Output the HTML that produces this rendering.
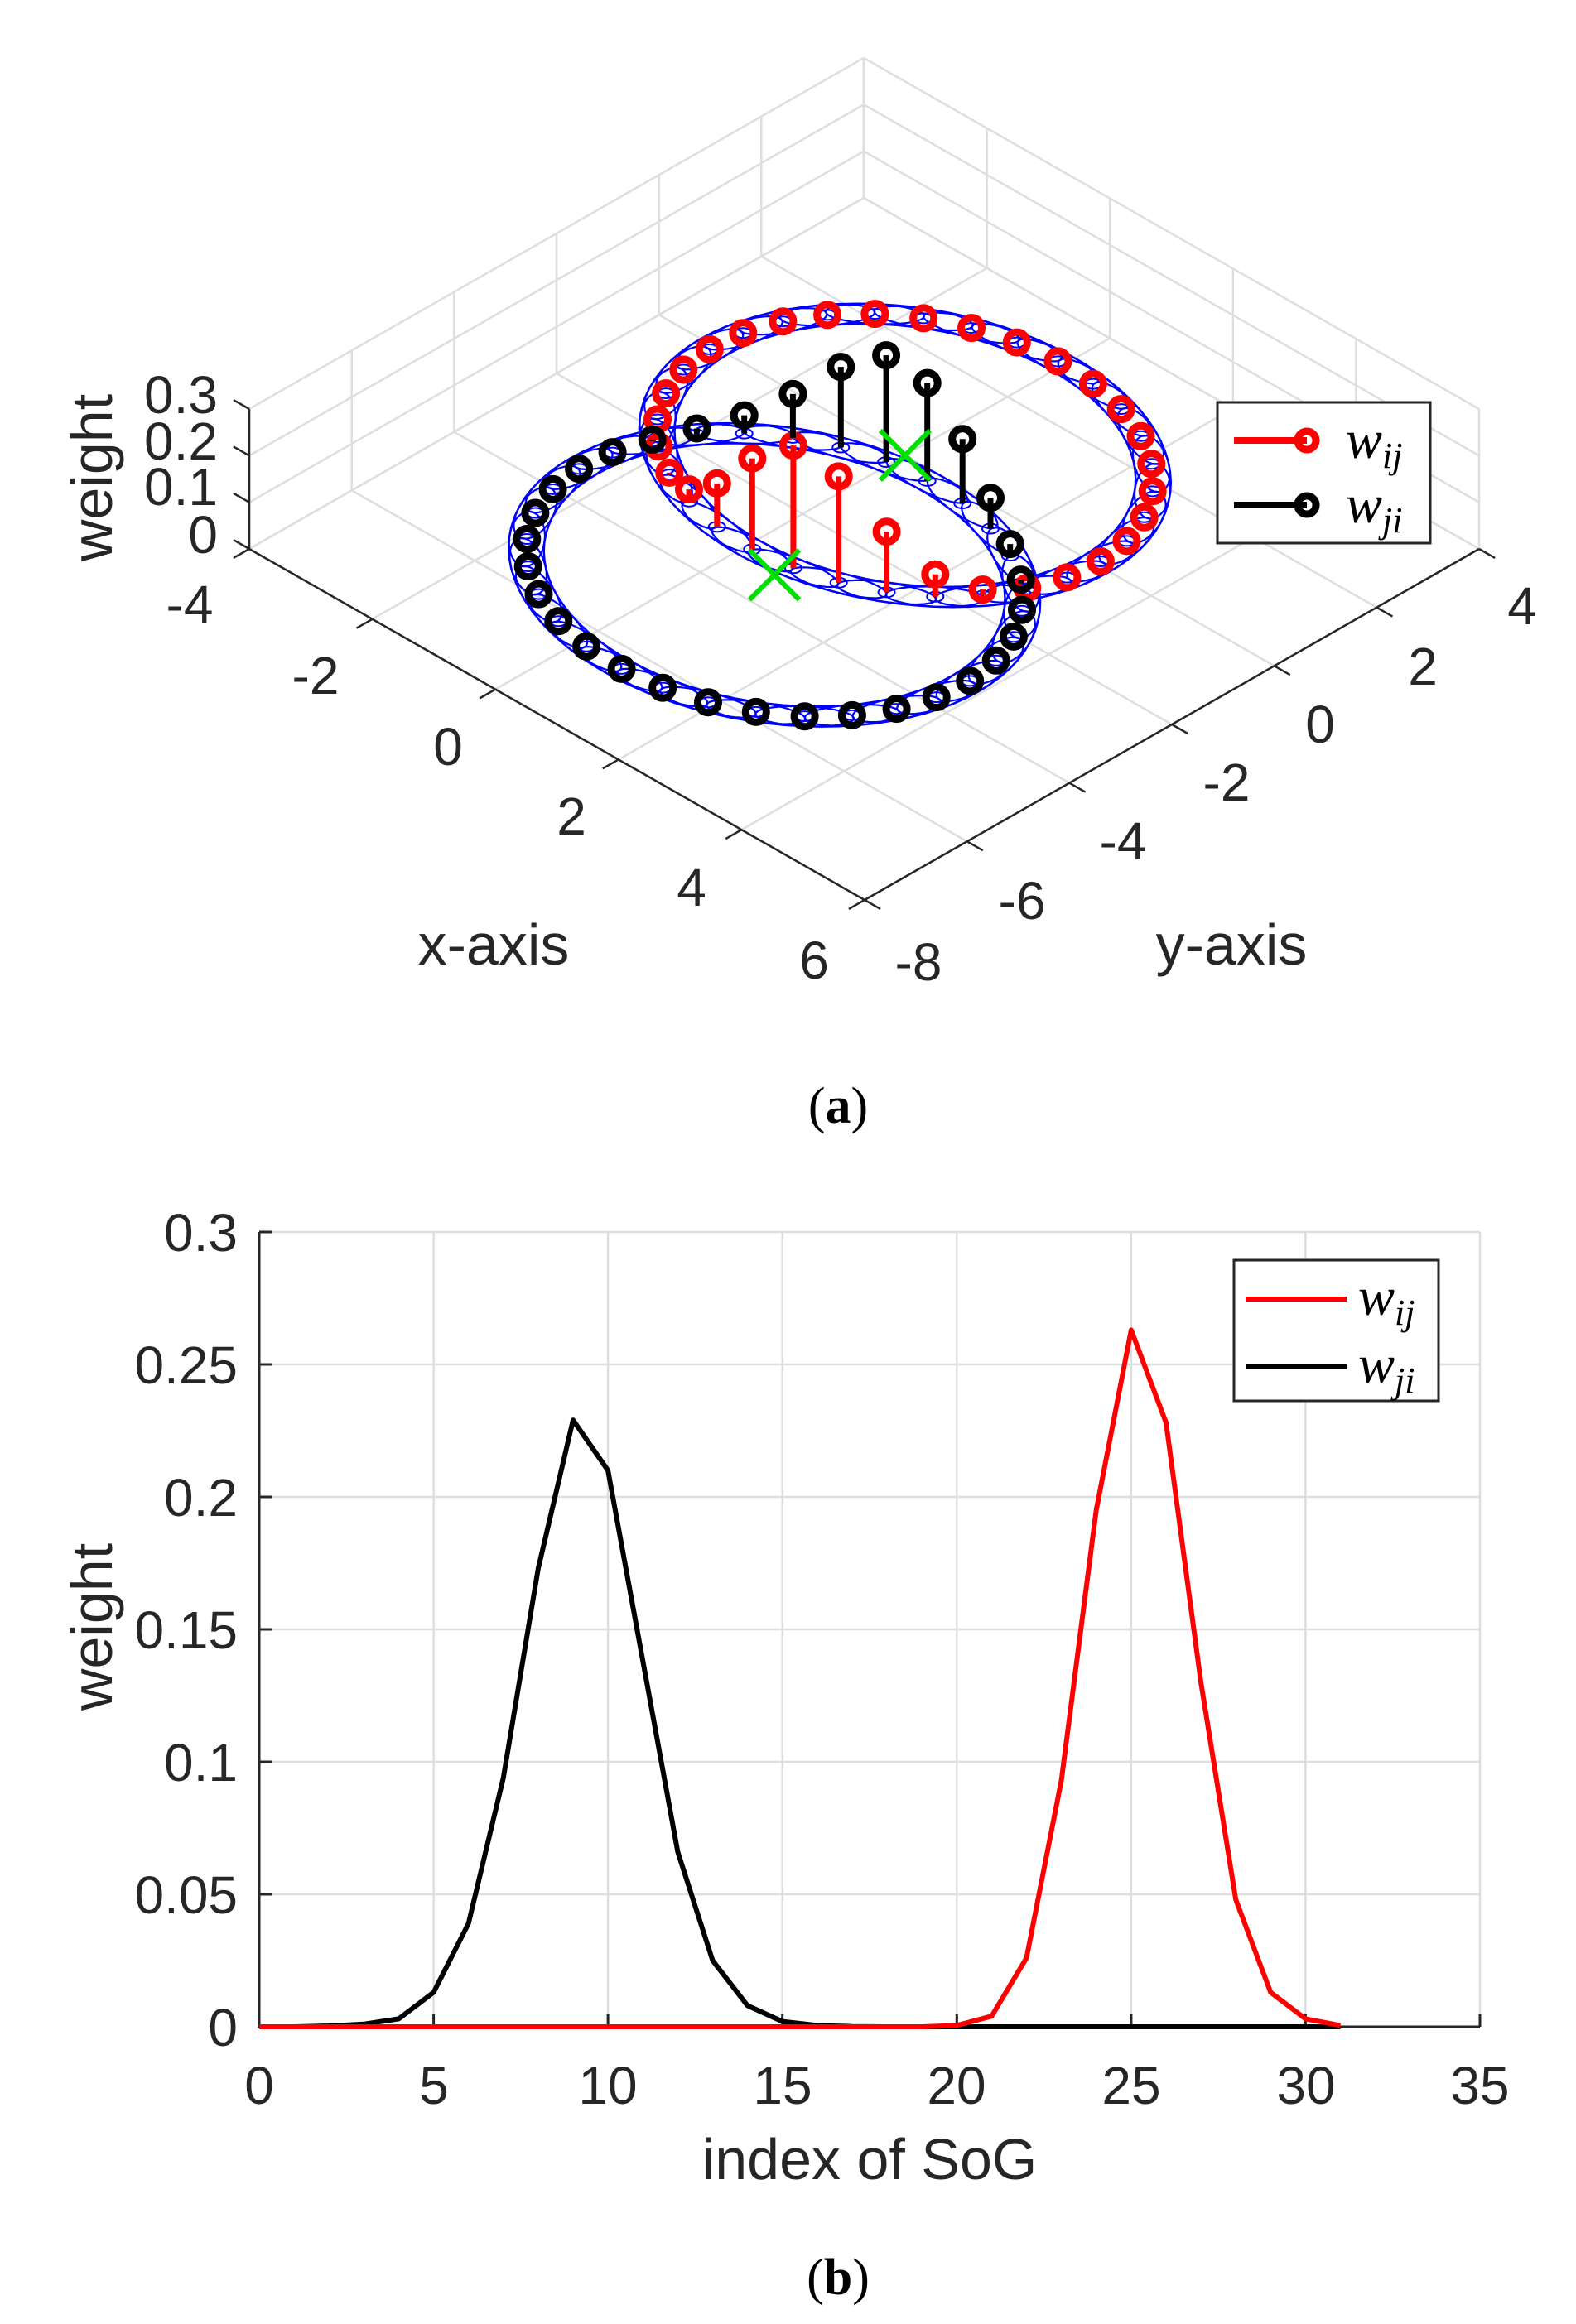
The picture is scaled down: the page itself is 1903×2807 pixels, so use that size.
<!DOCTYPE html>
<html><head><meta charset="utf-8"><style>
html,body{margin:0;padding:0;background:#fff;}
svg{display:block;}
text{font-family:"Liberation Sans",sans-serif;fill:#262626;}
.t{font-size:64px;}
.lab{font-size:70px;}
.cap{font-family:"Liberation Serif",serif;font-size:62px;fill:#000;}
.m{font-family:"Liberation Serif",serif;font-style:italic;fill:#000;}
</style></head><body>
<svg id="s" width="1903" height="2807" viewBox="0 0 1903 2807" xmlns="http://www.w3.org/2000/svg">
<g id="ga"></g>
<g class="t" text-anchor="end">
<text x="263" y="499">0.3</text><text x="263" y="555">0.2</text><text x="263" y="610">0.1</text><text x="263" y="668">0</text>
</g>
<g class="t" text-anchor="middle">
<text x="229" y="752">-4</text><text x="381" y="838">-2</text><text x="541" y="924">0</text><text x="690" y="1008">2</text><text x="835" y="1094">4</text><text x="983" y="1182">6</text>
<text x="1109" y="1184">-8</text><text x="1234" y="1110">-6</text><text x="1356" y="1038">-4</text><text x="1481" y="967">-2</text><text x="1594" y="897">0</text><text x="1718" y="827">2</text><text x="1838" y="754">4</text>
</g>
<text class="lab" x="0" y="0" text-anchor="middle" transform="translate(135,577) rotate(-90)">weight</text>
<text class="lab" x="596" y="1165" text-anchor="middle">x-axis</text>
<text class="lab" x="1487" y="1165" text-anchor="middle">y-axis</text>
<text class="cap" x="1012" y="1356" text-anchor="middle">(<tspan font-weight="bold">a</tspan>)</text>
<rect x="1470" y="486" width="257" height="170" fill="#fff" stroke="#262626" stroke-width="3"/>
<line x1="1490" y1="532" x2="1578" y2="532" stroke="#f00" stroke-width="8"/>
<circle cx="1578" cy="532" r="11" fill="none" stroke="#f00" stroke-width="9"/>
<line x1="1490" y1="610" x2="1578" y2="610" stroke="#000" stroke-width="8"/>
<circle cx="1578" cy="610" r="11" fill="none" stroke="#000" stroke-width="9"/>
<text class="m" x="1625" y="553" font-size="66">w<tspan font-size="44" dy="12">ij</tspan></text>
<text class="m" x="1625" y="631" font-size="66">w<tspan font-size="44" dy="12">ji</tspan></text>

<g id="gb"></g>
<g class="t" text-anchor="end">
<text x="287" y="1511">0.3</text><text x="287" y="1671">0.25</text><text x="287" y="1831">0.2</text><text x="287" y="1991">0.15</text><text x="287" y="2151">0.1</text><text x="287" y="2311">0.05</text><text x="287" y="2471">0</text>
</g>
<g class="t" text-anchor="middle">
<text x="313" y="2541">0</text><text x="524" y="2541">5</text><text x="734" y="2541">10</text><text x="945" y="2541">15</text><text x="1155" y="2541">20</text><text x="1366" y="2541">25</text><text x="1577" y="2541">30</text><text x="1787" y="2541">35</text>
</g>
<text class="lab" x="0" y="0" text-anchor="middle" transform="translate(135,1965) rotate(-90)">weight</text>
<text class="lab" x="1050" y="2632" text-anchor="middle">index of SoG</text>
<text class="cap" x="1012" y="2771" text-anchor="middle">(<tspan font-weight="bold">b</tspan>)</text>
<rect x="1490" y="1522" width="247" height="170" fill="#fff" stroke="#262626" stroke-width="3"/>
<line x1="1504" y1="1569" x2="1626" y2="1569" stroke="#f00" stroke-width="6"/>
<line x1="1504" y1="1651" x2="1626" y2="1651" stroke="#000" stroke-width="6"/>
<text class="m" x="1640" y="1588" font-size="66">w<tspan font-size="44" dy="12">ij</tspan></text>
<text class="m" x="1640" y="1670" font-size="66">w<tspan font-size="44" dy="12">ji</tspan></text>
</svg>
<script>
var NS="http://www.w3.org/2000/svg";
function el(p,n,a){var e=document.createElementNS(NS,n);for(var k in a)e.setAttribute(k,a[k]);p.appendChild(e);return e;}
function P(x,y,z){var a=(6-x)/10,b=(y+8)/12;return [1044-743*a+742*b,1087-424*a-424*b-563.3*z];}
function L(g,p,q,c,w){el(g,'line',{x1:p[0].toFixed(1),y1:p[1].toFixed(1),x2:q[0].toFixed(1),y2:q[1].toFixed(1),stroke:c,'stroke-width':w});}
var ga=document.getElementById('ga'),gc='#dedede';
for(var x=-4;x<=6;x+=2)L(ga,P(x,-8,0),P(x,4,0),gc,2.5);
for(var y=-8;y<=4;y+=2)L(ga,P(-4,y,0),P(6,y,0),gc,2.5);
for(var y=-8;y<=4;y+=2)L(ga,P(-4,y,0),P(-4,y,0.3),gc,2.5);
for(var x=-4;x<=6;x+=2)L(ga,P(x,4,0),P(x,4,0.3),gc,2.5);
for(var z=0;z<=0.31;z+=0.1){L(ga,P(-4,-8,z),P(-4,4,z),gc,2.5);L(ga,P(-4,4,z),P(6,4,z),gc,2.5);}
var ax='#262626';
L(ga,P(-4,-8,0),P(6,-8,0),ax,2.5);L(ga,P(6,-8,0),P(6,4,0),ax,2.5);L(ga,P(-4,-8,0),P(-4,-8,0.3),ax,2.5);
var d1=[-742/855*22,424/855*22],d2=[743/856*22,424/856*22],d3=[-743/856*22,-424/856*22];
for(var x=-4;x<=6;x+=2){var p=P(x,-8,0);L(ga,p,[p[0]+d1[0],p[1]+d1[1]],ax,2.5);}
for(var y=-8;y<=4;y+=2){var p=P(6,y,0);L(ga,p,[p[0]+d2[0],p[1]+d2[1]],ax,2.5);}
for(var z=0;z<=0.31;z+=0.1){var p=P(-4,-8,z);L(ga,p,[p[0]+d3[0],p[1]+d3[1]],ax,2.5);}
var wb=[0,0,0.0003,0.001,0.003,0.013,0.039,0.094,0.173,0.229,0.210,0.138,0.066,0.025,0.008,0.002,0.0005,0.0001,0,0,0,0,0,0,0,0,0,0,0,0,0,0];
var wr=[];for(var i=0;i<20;i++)wr.push(0);wr=wr.concat([0.0005,0.004,0.026,0.093,0.195,0.263,0.228,0.130,0.048,0.013,0.003,0.0005]);
var R=3.1,rc=[0,0],bc=[0.64,-3.32];
function ang(k,red){return red?(-77+(k-25)*11.25)*Math.PI/180:(103-(k-9)*11.25)*Math.PI/180;}
function ring(c,red){
 for(var k=0;k<32;k++){var t=ang(k,red),cx=c[0]+R*Math.cos(t),cy=c[1]+R*Math.sin(t);
  var ux=Math.cos(t),uy=Math.sin(t),vx=-uy,vy=ux,pts=[];
  for(var j=0;j<=36;j++){var s=j*Math.PI/18,ra=0.22*Math.cos(s),ta=0.62*Math.sin(s);
   var q=P(cx+ra*ux+ta*vx,cy+ra*uy+ta*vy,0);pts.push(q[0].toFixed(1)+','+q[1].toFixed(1));}
  el(ga,'polyline',{points:pts.join(' '),fill:'none',stroke:'#0000ff','stroke-width':2.2});
  var pb=P(cx,cy,0);el(ga,'ellipse',{cx:pb[0],cy:pb[1],rx:10,ry:6,fill:'none',stroke:'#0000ff','stroke-width':2});
 }
 [R+0.22,R-0.22].forEach(function(rr){var pts=[];for(var j=0;j<=90;j++){var s=j*Math.PI/45;var q=P(c[0]+rr*Math.cos(s),c[1]+rr*Math.sin(s),0);pts.push(q[0].toFixed(1)+','+q[1].toFixed(1));}
  el(ga,'polyline',{points:pts.join(' '),fill:'none',stroke:'#0000ff','stroke-width':2.5});});
}
ring(rc,true);ring(bc,false);
function stems(c,red,w){var col=red?'#f00':'#000';
 for(var k=0;k<32;k++){var t=ang(k,red),cx=c[0]+R*Math.cos(t),cy=c[1]+R*Math.sin(t);
  var p0=P(cx,cy,0),p1=P(cx,cy,w[k]);
  if(w[k]>0.002)L(ga,p0,p1,col,7);
  el(ga,'circle',{cx:p1[0].toFixed(1),cy:p1[1].toFixed(1),r:12.5,fill:'none',stroke:col,'stroke-width':9});}
}
stems(rc,true,wr);stems(bc,false,wb);
[rc,bc].forEach(function(c){var p=P(c[0],c[1],0);L(ga,[p[0]-30,p[1]-30],[p[0]+30,p[1]+30],'#00e000',6);L(ga,[p[0]-30,p[1]+30],[p[0]+30,p[1]-30],'#00e000',6);});
var gb=document.getElementById('gb');
function X(i){return 313+i*1474/35;}function Y(v){return 2448-v*3200;}
for(var i=5;i<=35;i+=5)L(gb,[X(i),1488],[X(i),2448],gc,2.5);
for(var v=0.05;v<=0.301;v+=0.05)L(gb,[313,Y(v)],[1787,Y(v)],gc,2.5);
L(gb,[313,1488],[313,2449],ax,3);L(gb,[312,2448],[1787,2448],ax,3);
for(var i=0;i<=35;i+=5)L(gb,[X(i),2448],[X(i),2433],ax,3);
for(var v=0;v<=0.301;v+=0.05)L(gb,[313,Y(v)],[328,Y(v)],ax,3);
function line(w,c){var pts=[];for(var i=0;i<32;i++)pts.push(X(i).toFixed(1)+','+Y(w[i]).toFixed(1));el(gb,'polyline',{points:pts.join(' '),fill:'none',stroke:c,'stroke-width':6,'stroke-linejoin':'round'});}
line(wb,'#000');line(wr,'#f00');
</script>
</body></html>
